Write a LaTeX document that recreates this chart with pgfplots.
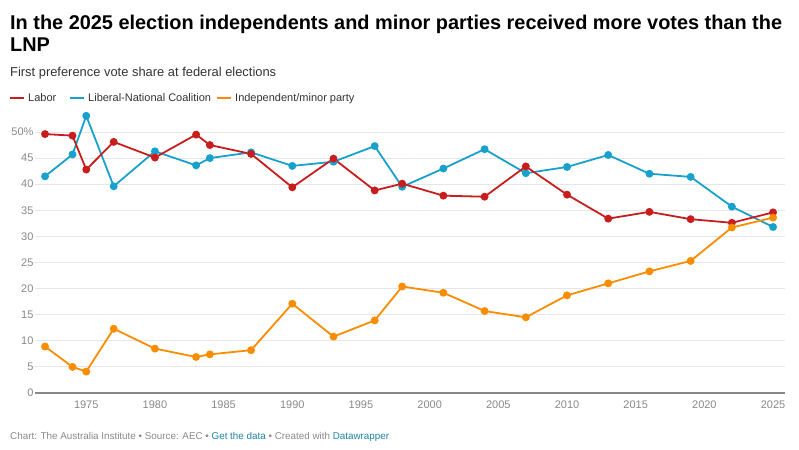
\documentclass[border=0pt]{standalone}
\usepackage{pgfplots}
\pgfplotsset{compat=1.18}
\usepackage{fontspec}
\setmainfont{Liberation Sans}
\definecolor{labor}{HTML}{C71E1D}
\definecolor{lnp}{HTML}{18A1CD}
\definecolor{minor}{HTML}{FA8C00}
\definecolor{tickgray}{HTML}{888888}
\definecolor{gridgray}{HTML}{E6E6E6}
\definecolor{linkblue}{HTML}{1D81A2}
\pgfplotstableread{
year labor lnp minor
1972 49.6 41.5 8.9
1974 49.3 45.7 5.0
1975 42.8 53.1 4.1
1977 48.1 39.6 12.3
1980 45.1 46.3 8.5
1983 49.5 43.6 6.9
1984 47.5 45.0 7.4
1987 45.8 46.1 8.2
1990 39.4 43.5 17.1
1993 44.9 44.3 10.8
1996 38.8 47.3 13.9
1998 40.1 39.5 20.4
2001 37.8 43.0 19.2
2004 37.6 46.7 15.7
2007 43.4 42.1 14.5
2010 38.0 43.3 18.7
2013 33.4 45.6 21.0
2016 34.7 42.0 23.3
2019 33.3 41.4 25.3
2022 32.6 35.7 31.7
2025 34.6 31.8 33.6
}\datatable
\begin{document}
\begin{tikzpicture}[x=1bp,y=1bp]
\path[use as bounding box] (0,0) rectangle (799,450);
% title
\node[anchor=base west, inner sep=0, align=left, font=\fontsize{19.9bp}{23bp}\selectfont\bfseries] at (10,420) {In the 2025 election independents and minor parties received more votes than the};
\node[anchor=base west, inner sep=0, font=\fontsize{19.9bp}{23bp}\selectfont\bfseries] at (10,398) {LNP};
\node[anchor=base west, inner sep=0, text=black!80, font=\fontsize{12.9bp}{15bp}\selectfont] at (10,373) {First preference vote share at federal elections};
% legend
\draw[labor, line width=2bp] (10,352) -- (24,352);
\node[anchor=base west, inner sep=0, text=black!80, font=\fontsize{11bp}{13bp}\selectfont] at (28,348) {Labor};
\draw[lnp, line width=2bp] (70,352) -- (84,352);
\node[anchor=base west, inner sep=0, text=black!80, font=\fontsize{11bp}{13bp}\selectfont] at (88,348) {Liberal-National Coalition};
\draw[minor, line width=2bp] (217,352) -- (231,352);
\node[anchor=base west, inner sep=0, text=black!80, font=\fontsize{11bp}{13bp}\selectfont] at (235,348) {Independent/minor party};
% footer
\node[anchor=base west, inner sep=0, text=tickgray, font=\fontsize{9.85bp}{12bp}\selectfont] at (10,10) {Chart: The Australia Institute \textbullet{} Source: AEC \textbullet{} \textcolor{linkblue}{Get the data} \textbullet{} Created with \textcolor{linkblue}{Datawrapper}};
\begin{axis}[
  at={(35bp,57bp)}, anchor=south west,
  scale only axis, width=750bp, height=261bp,
  xmin=1971.27, xmax=2025.87, ymin=0, ymax=50,
  clip=false,
  axis line style={draw=none},
  xtick={1975,1980,...,2025},
  ytick={0,5,...,50},
  yticklabels={0,5,10,15,20,25,30,35,40,45,50\%},
  major tick length=0pt,
  ymajorgrids, grid style={gridgray, line width=0.8bp},
  tick label style={text=tickgray, font=\fontsize{11bp}{13bp}\selectfont},
  /pgf/number format/assume math mode=true,
  xticklabel style={yshift=-4bp},
  yticklabel style={xshift=2bp},
  xticklabel={\pgfmathprintnumber[1000 sep=]{\tick}},
]
\draw[tickgray, line width=1.3bp] (axis cs:1971.27,0) -- (axis cs:2025.87,0);
\addplot[lnp, line width=1.8bp, mark=*, mark size=3bp] table[x=year,y=lnp] {\datatable};
\addplot[labor, line width=1.8bp, mark=*, mark size=3bp] table[x=year,y=labor] {\datatable};
\addplot[minor, line width=1.8bp, mark=*, mark size=3bp] table[x=year,y=minor] {\datatable};
\end{axis}
\end{tikzpicture}
\end{document}
